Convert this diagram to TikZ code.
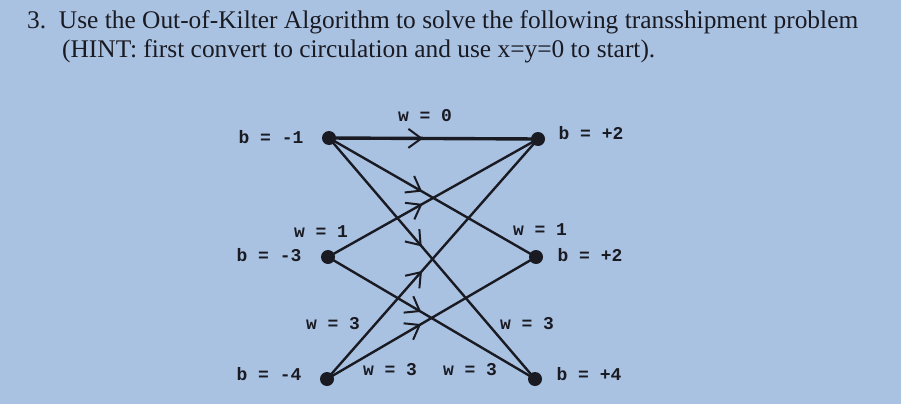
\documentclass[tikz,border=0pt]{standalone}
\usepackage{fontspec}
\setmainfont{Liberation Serif}
\newfontfamily\tw{Liberation Mono}
\usetikzlibrary{arrows.meta,decorations.markings}
\definecolor{paper}{RGB}{170,194,226}
\definecolor{ink}{RGB}{25,26,34}
\begin{document}
\begin{tikzpicture}[x=1pt,y=-1pt,
  vtx/.style={circle,fill=ink,inner sep=0pt,minimum size=14pt},
  lbl/.style={font=\tw\bfseries\fontsize{18}{18}\selectfont,text=ink,inner sep=0pt},
  ttl/.style={font=\fontsize{25.4}{28}\selectfont,text=ink,inner sep=0pt,anchor=base west},
  arc/.style={draw=ink,line width=2.4pt,postaction={decorate},
    decoration={markings,mark=at position 0.45 with {\arrow{Straight Barb[length=13pt,width=19pt,line width=2pt]}}}}]
\useasboundingbox[fill=paper] (0,0) rectangle (901,404);
% title
\node[ttl] (t1) at (27,29) {3.\ \ Use the Out-of-Kilter Algorithm to solve the following transshipment problem};
\node[ttl] (t2) at (62,58) {(HINT: first convert to circulation and use x=y=0 to start).};
% vertices
\node[vtx] (L1) at (329,138) {};
\node[vtx] (L2) at (328,257) {};
\node[vtx] (L3) at (327,379) {};
\node[vtx] (R1) at (538,139) {};
\node[vtx] (R2) at (536,257) {};
\node[vtx] (R3) at (535,379) {};
% arcs
\path[arc,line width=3.4pt] (L1.center) -- (R1.center);
\path[arc] (L1.center) -- (R2.center);
\path[arc] (L1.center) -- (R3.center);
\path[arc] (L2.center) -- (R1.center);
\path[arc] (L2.center) -- (R3.center);
\path[arc] (L3.center) -- (R1.center);
\path[arc] (L3.center) -- (R2.center);
% labels
\node[lbl] (bL1) at (271,137) {b = -1};
\node[lbl] (bL2) at (269,255) {b = -3};
\node[lbl] (bL3) at (269,374) {b = -4};
\node[lbl] (bR1) at (591,133) {b = +2};
\node[lbl] (bR2) at (590,255) {b = +2};
\node[lbl] (bR3) at (589,374) {b = +4};
\node[lbl] (w0) at (425,116) {w = 0};
\node[lbl] (w1a) at (321,232) {w = 1};
\node[lbl] (w1b) at (540,230) {w = 1};
\node[lbl] (w3a) at (333,324) {w = 3};
\node[lbl] (w3b) at (527,324) {w = 3};
\node[lbl] (w3c) at (390,370) {w = 3};
\node[lbl] (w3d) at (470,370) {w = 3};
\end{tikzpicture}
\end{document}
